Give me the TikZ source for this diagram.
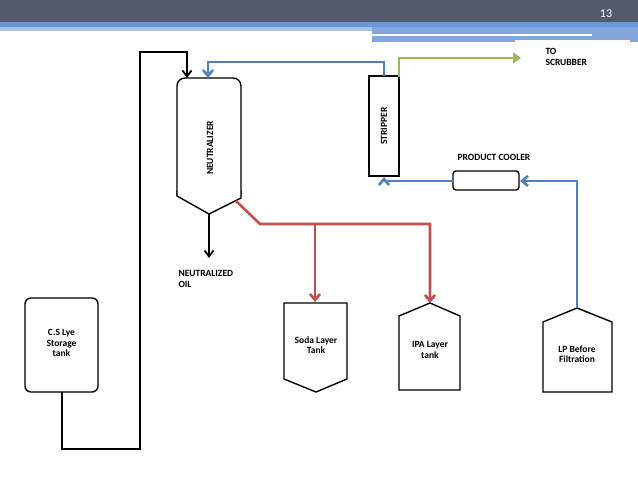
\documentclass[tikz,border=0pt]{standalone}
\usepackage{fontspec}
\setmainfont{Carlito}
\usetikzlibrary{arrows.meta}
\definecolor{hdr}{RGB}{84,90,105}
\definecolor{hb1}{RGB}{110,150,215}
\definecolor{hb2}{RGB}{170,195,235}
\definecolor{hb3}{RGB}{130,165,220}
\definecolor{cblu}{RGB}{79,129,189}
\definecolor{cred}{RGB}{192,80,77}
\definecolor{cgrn}{RGB}{155,187,89}
\begin{document}
\begin{tikzpicture}[x=1pt,y=-1pt,
  eq/.style={draw=black,line width=1.4pt,fill=white},
  lbl/.style={font=\bfseries\fontsize{9.5}{10.5}\selectfont,align=center},
  blk/.style={draw=black,line width=1.8pt,-{Straight Barb[length=6pt,width=9pt]}},
  blu/.style={draw=cblu,line width=2.6pt,-{Straight Barb[length=6pt,width=10pt]}},
  red/.style={draw=cred,line width=2.6pt,-{Straight Barb[length=6pt,width=10pt]}},
  grn/.style={draw=cgrn,line width=2.8pt,-{Triangle[length=8pt,width=11pt]}}]
\useasboundingbox (0,0) rectangle (638,478);
\fill[white] (0,0) rectangle (638,478);
% header
\fill[hdr] (0,0) rectangle (638,22);
\fill[hb1] (0,22) rectangle (638,27);
\fill[hb2] (0,27) rectangle (372,31);
\fill[hb3] (372,27) rectangle (638,42);
\fill[white] (372,34) rectangle (592,36);
\fill[white] (515,40) rectangle (630,44);
\node[text=white,font=\fontsize{12}{12}\selectfont] (pg) at (606,14) {13};
% equipment
\draw[eq,rounded corners=8pt] (177,196) -- (177,78) -- (241,78) -- (241,196);
\draw[eq] (177,190) -- (177,196) -- (209,214) -- (241,198) -- (241,190);
\node[lbl,rotate=90] (neu) at (210,148) {NEUTRALIZER};
\coordinate (neutop1) at (187,78);
\coordinate (neutop2) at (208,78);
\coordinate (neutip) at (209,214);
\coordinate (neucone) at (236,201);
\draw[eq] (369,76) rectangle (399,176);
\node[lbl,rotate=90] (str) at (384,126) {STRIPPER};
\draw[eq,rounded corners=3pt] (453,171) rectangle (519,190);
\node (cool) at (486,180.5) {};
\node[lbl] (coollbl) at (494,157) {PRODUCT COOLER};
\draw[eq,rounded corners=6pt] (25,298) rectangle (98,392);
\node[lbl] (cs) at (61.5,343) {C.S Lye\\Storage\\tank};
\draw[eq] (284,303) -- (347,303) -- (347,379) -- (316,392) -- (284,379) -- cycle;
\node[lbl] (soda) at (316,345) {Soda Layer\\Tank};
\draw[eq] (430,303) -- (460,316) -- (460,390) -- (399,390) -- (399,316) -- cycle;
\node[lbl] (ipa) at (430,350) {IPA Layer\\tank};
\draw[eq] (577,308) -- (612,322) -- (612,392) -- (543,392) -- (543,322) -- cycle;
\node[lbl] (lp) at (577,354) {LP Before\\Filtration};
\node[lbl,align=left,anchor=west] (scr) at (542,57) {TO\\SCRUBBER};
\node[lbl,align=left,anchor=west] (oil) at (175,279) {NEUTRALIZED\\OIL};
% connectors
\draw[blk] (62,392) -- (62,449) -- (140,449) -- (140,52) -- (187,52) -- (neutop1);
\draw[blk] (neutip) -- (209,258);
\draw[blu] (384,76) -- (384,62) -- (208,62) -- (neutop2);
\draw[grn] (399,77) -- (399,58) -- (521,58);
\draw[blu] (577,308) -- (577,181) -- (520,181);
\draw[blu] (453,181) -- (384,181) -- (384,177);
\draw[red] (neucone) -- (260,224) -- (430,224) -- (430,303);
\draw[red] (315,224) -- (315,302);
\end{tikzpicture}
\end{document}
